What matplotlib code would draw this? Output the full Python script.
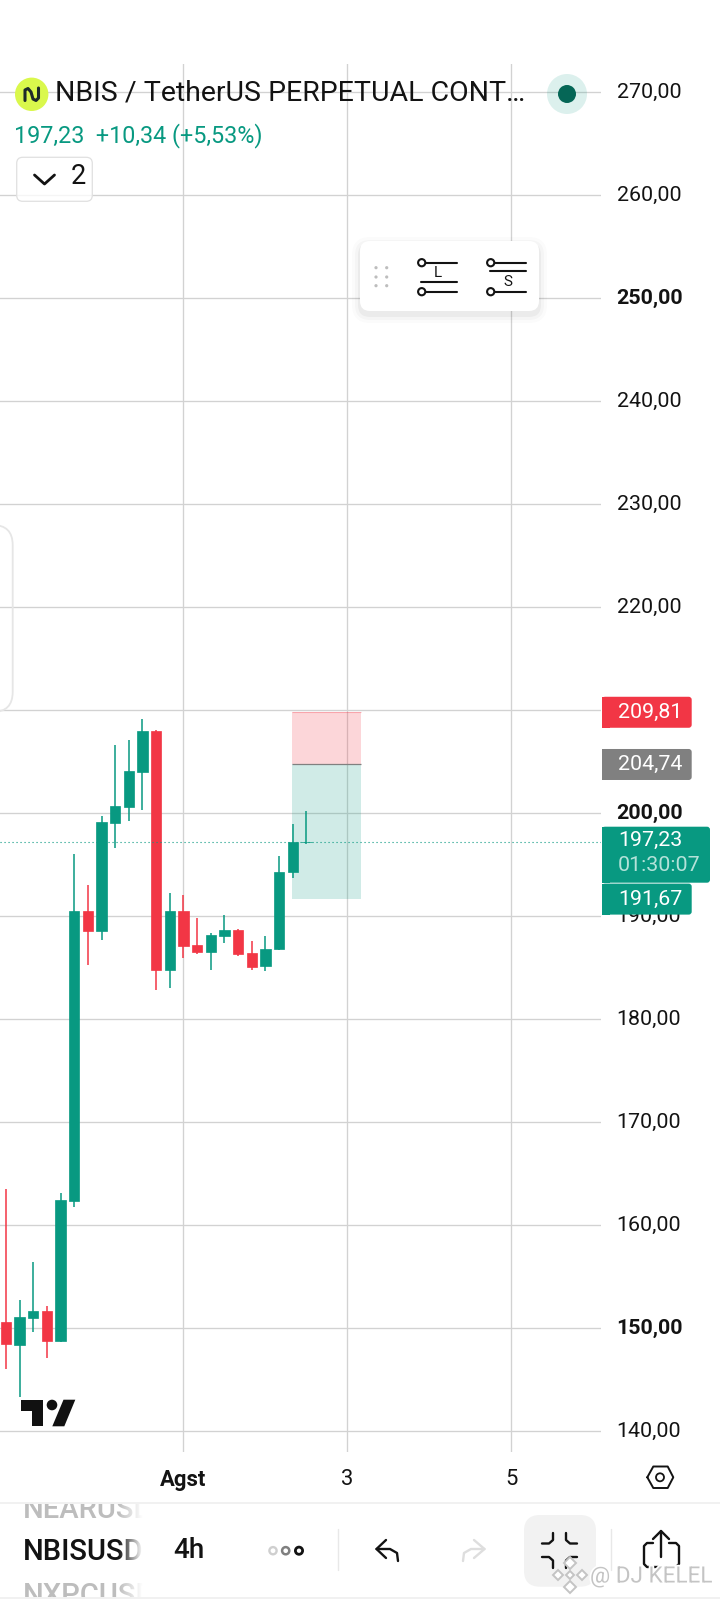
import matplotlib
matplotlib.use("Agg")
import matplotlib.pyplot as plt
import matplotlib.patheffects as pe
import numpy as np
from matplotlib.patches import Circle, FancyBboxPatch, Polygon, Rectangle

plt.rcParams['font.family'] = ['Roboto', 'DejaVu Sans']

GREEN = "#089981"
RED = "#F23645"
GRID = "#D2D2D2"
INK = "#131313"

# --- DATA ---
opens = [150.61, 148.38, 151.00, 151.68, 148.77, 162.36, 190.52, 188.60, 199.08, 200.63, 204.04, 208.02,
         184.78, 190.52, 187.21, 186.53, 188.09, 188.67, 186.43, 185.17, 186.82, 194.31, 197.20]
closes = [148.48, 151.10, 151.68, 148.77, 162.46, 190.52, 188.60, 199.17, 200.73, 204.13, 208.02, 184.78,
          190.52, 187.11, 186.53, 188.18, 188.67, 186.34, 185.07, 186.82, 194.31, 197.23, 197.23]
highs = [163.53, 152.75, 156.44, 152.17, 163.14, 196.06, 193.05, 199.76, 206.66, 207.15, 209.19, 208.12,
         192.27, 192.07, 189.84, 188.38, 190.13, 188.77, 187.60, 188.09, 195.87, 198.98, 200.24]
lows = [146.05, 141.75, 149.64, 147.12, 148.67, 161.78, 185.27, 187.70, 196.65, 199.27, 200.34, 182.80,
        183.03, 185.95, 186.34, 184.78, 187.41, 186.14, 184.78, 184.68, 186.73, 193.73, 197.03]

price_ticks = [140, 150, 160, 170, 180, 190, 200, 210, 220, 230, 240, 250, 260, 270]
bold_prices = [150, 200, 250]
date_ticks = [13, 25, 37]
date_labels = ["Agst", "3", "5"]

last_price = 197.23
target_price = 209.81
entry_price = 204.74
stop_price = 191.67
position_start = 20.94
position_end = 25.97

fig = plt.figure(figsize=(7.2, 16), dpi=100, facecolor="white")

# --- CHART ---
ax = fig.add_axes([0, (1600 - 1452) / 1600, 600.5 / 720, (1452 - 64) / 1600])
ax.set_xlim(-0.432, 43.53)
ax.set_ylim(137.99, 272.75)
for s in ax.spines.values():
    s.set_visible(False)

ax.set_axisbelow(True)
ax.grid(True, color=GRID, linewidth=0.95)

ax.yaxis.tick_right()
ax.set_yticks(price_ticks)
ax.set_yticklabels([f"{p},00" for p in price_ticks])
ax.tick_params(axis='y', length=0, pad=11.6, labelsize=15.4, labelcolor=INK)
plt.setp(ax.get_yticklabels(), va="center")
ax.set_xticks(date_ticks)
ax.set_xticklabels(date_labels)
ax.tick_params(axis='x', length=0, pad=12, labelsize=15.8, labelcolor=INK)
ax.get_xticklabels()[0].set_fontweight("bold")
for lab, p in zip(ax.get_yticklabels(), price_ticks):
    if p in bold_prices:
        lab.set_fontweight("bold")

# long position tool
width = position_end - position_start
ax.add_patch(Rectangle((position_start, entry_price), width, target_price - entry_price,
                       facecolor=RED, alpha=0.2, edgecolor="none", zorder=2))
ax.add_patch(Rectangle((position_start, stop_price), width, entry_price - stop_price,
                       facecolor=GREEN, alpha=0.19, edgecolor="none", zorder=2))
ax.hlines(entry_price, position_start, position_end, color="#808080", linewidth=0.9, zorder=2.5)
ax.hlines(target_price, position_start, position_end, color=RED, alpha=0.3, linewidth=0.8, zorder=2.5)

# candles
idx = np.arange(len(opens))
colors = [GREEN if c >= o else RED for o, c in zip(opens, closes)]
ax.vlines(idx, lows, highs, colors=colors, linewidth=1.1, zorder=3)
ax.bar(idx, np.array(closes) - np.array(opens), bottom=opens, width=0.76,
       color=colors, edgecolor=colors, linewidth=0.5, zorder=4)

ax.axhline(last_price, color=GREEN, linewidth=0.8, linestyle=(0, (1, 2.6)), zorder=5)

# --- UI LAYER (pixel coordinates) ---
ui = fig.add_axes([0, 0, 1, 1], zorder=5)
ui.patch.set_alpha(0)
ui.axis("off")


def box(x0, y0, x1, y1, r, **kw):
    p = FancyBboxPatch((x0, y0), x1 - x0, y1 - y0, boxstyle=f"round,pad=0,rounding_size={r}", **kw)
    ui.add_patch(p)
    return p


def line(pts, color=INK, lw=1.5, **kw):
    xs, ys = zip(*pts)
    ui.plot(xs, ys, color=color, linewidth=lw, solid_capstyle="round", solid_joinstyle="round", **kw)


def ring(x, y, r, color=INK, lw=1.5):
    ui.add_patch(Circle((x, y), r, facecolor="white", edgecolor=color, linewidth=lw, zorder=4))


def price_y(p):
    return 1600 - ax.transData.transform((0, p))[1]


def tag(price, text, color, x1=691.7, half=15.5):
    y = price_y(price)
    box(602, y - half, x1, y + half, 3, facecolor=color, edgecolor="none")
    ui.add_patch(Rectangle((602, y - half), 8, 2 * half, facecolor=color, edgecolor="none"))
    ui.text(618, y, text, color="white", fontsize=15.4, ha="left", va="center")


# header
ui.add_patch(Circle((31.7, 94.3), 16.7, facecolor="#DAF84C", edgecolor="none"))
line([(25, 100.5), (25, 90), (28, 88.5), (31, 92), (33, 99), (36, 100.5), (38.5, 98), (38.5, 88)], color="#1D2B2A", lw=2.2)
ui.text(55, 93.5, "NBIS / TetherUS PERPETUAL CONT…", fontsize=20.5, color=INK, ha="left", va="center")
ui.text(14.5, 136, "197,23  +10,34 (+5,53%)", fontsize=16.8, color=GREEN, ha="left", va="center")
box(16.7, 157.3, 92.3, 201.3, 6, facecolor=(1, 1, 1, 0.8), edgecolor="#E0E0E0", linewidth=0.9)
line([(34.5, 175), (44.5, 184), (54.5, 175)], lw=2)
ui.text(78, 177, "2", fontsize=19.5, color=INK, ha="center", va="center")

ui.add_patch(Circle((567, 94), 20, facecolor=GREEN, alpha=0.14, edgecolor="none"))
ui.add_patch(Circle((567, 94), 9, facecolor="#056656", edgecolor="none"))

# floating toolbar
for grow, a in [(8, 0.015), (5, 0.025), (2, 0.04)]:
    box(360 - grow, 240 - grow + 5, 539 + grow, 311 + grow + 4, 10 + grow, facecolor="black", alpha=a, edgecolor="none")
box(360, 241, 539, 311, 10, facecolor="white", edgecolor="none")
for dx in (376, 386.7):
    for dy in (267.7, 277, 285.7):
        ui.add_patch(Circle((dx, dy), 1.6, facecolor="#BDBDBD", edgecolor="none"))
line([(424, 262.7), (457, 262.7)])
line([(424, 291.7), (457, 291.7)])
line([(421, 282), (457, 282)])
ring(421.7, 262.7, 3.6)
ring(421.7, 291.7, 3.6)
ui.text(438, 272.8, "L", fontsize=11, color=INK, ha="center", va="center")
line([(493, 262.7), (525.7, 262.7)])
line([(493, 291.7), (525.7, 291.7)])
line([(490, 271.3), (525.7, 271.3)])
ring(490.7, 262.7, 3.6)
ring(490.7, 291.7, 3.6)
ui.text(508, 281.7, "S", fontsize=11, color=INK, ha="center", va="center")

# collapsed panel at left edge
box(-30, 525, 12.7, 712, 20, facecolor="none", edgecolor="#E6E6E6", linewidth=1.3)

# price tags
tag(target_price, "209,81", RED)
tag(entry_price, "204,74", "#808080")
box(602, 826.7, 710, 882.7, 3, facecolor=GREEN, edgecolor="none")
ui.add_patch(Rectangle((602, 826.7), 8, 56, facecolor=GREEN, edgecolor="none"))
ui.text(618, 840, "197,23", color="white", fontsize=15.4, ha="left", va="center")
ui.text(618, 865.5, "01:30:07", color="#B4E2D9", fontsize=15.4, ha="left", va="center")
tag(stop_price, "191,67", GREEN)

# tradingview logo, with the white margin it keeps over the candles
ui.add_patch(Rectangle((17, 1397), 62, 16, facecolor="white", edgecolor="none"))
ui.add_patch(Polygon([(21.3, 1399.7), (43.3, 1399.7), (43.3, 1426.3), (32, 1426.3), (32, 1411), (21.3, 1411)],
                     facecolor="#111111", edgecolor="none"))
ui.add_patch(Circle((52, 1405), 5.3, facecolor="#111111", edgecolor="none"))
ui.add_patch(Polygon([(63.5, 1399.7), (75.3, 1399.7), (64.3, 1426.3), (52.3, 1426.3)], facecolor="#111111", edgecolor="none"))

# settings hexagon next to the time axis
line([(647.3, 1477.3), (653.3, 1466.5), (667.7, 1466.5), (673.3, 1477.3), (667.7, 1488), (653.3, 1488), (647.3, 1477.3)], lw=1.4)
ring(660, 1477.3, 4, lw=1.3)

# bottom bar
ui.add_patch(Rectangle((0, 1502), 720, 2, facecolor="#F1F1F1", edgecolor="none"))
ui.add_patch(Rectangle((0, 1597), 720, 2, facecolor="#F1F1F1", edgecolor="none"))
clip = Rectangle((0, 1504), 143, 93, transform=ui.transData)
for y, name, col in [(1510, "NEARUSD", "#BDBDBD"), (1552, "NBISUSD", INK), (1596, "NXPCUSD", "#BDBDBD")]:
    t = ui.text(23, y, name, fontsize=21, color=col, ha="left", va="center", fontweight="medium")
    t.set_clip_path(clip)
    t.set_clip_on(True)
fade = np.ones((1, 30, 4))
fade[0, :, 3] = np.linspace(0, 1, 30)
ui.imshow(fade, extent=(118, 143, 1597, 1504), aspect="auto", zorder=3)

ui.text(188.5, 1551, "4h", fontsize=20, color=INK, ha="center", va="center", fontweight="medium")
ring(273, 1550.7, 3.6, color="#CFCFCF", lw=1.7)
ring(285.7, 1550.7, 3.6, color="#808080", lw=1.8)
ring(299, 1550.7, 3.6, color=INK, lw=2)
line([(337.5, 1529), (337.5, 1570)], color="#E8E8E8", lw=1)
line([(611, 1529), (611, 1570)], color="#E8E8E8", lw=1)

# undo / redo
line([(386, 1540), (376.5, 1549), (386, 1558)], lw=1.7)
line([(376.5, 1549), (390, 1549), (397, 1553), (398, 1561)], lw=1.7)
line([(474, 1540), (484.5, 1549), (474, 1558)], color="#DEDEDE", lw=1.7)
line([(484.5, 1549), (471, 1549), (464, 1553), (463, 1561)], color="#DEDEDE", lw=1.7)

# exit-fullscreen button
box(524, 1515, 596, 1586.7, 16, facecolor="#F2F2F2", edgecolor="none")
line([(542, 1543.5), (549, 1543.5), (553, 1540), (553, 1533)], lw=1.7)
line([(566, 1533), (566, 1540), (570, 1543.5), (577, 1543.5)], lw=1.7)
line([(542, 1557), (549, 1557), (553, 1560.5), (553, 1568)], lw=1.7)
line([(577, 1557), (570, 1557), (566, 1560.5), (566, 1568)], lw=1.7)

# share
line([(661, 1531), (661, 1557)], lw=1.7)
line([(653, 1539), (661, 1531), (669, 1539)], lw=1.7)
line([(653, 1543), (647, 1543), (644, 1546), (644, 1564), (647, 1567), (676, 1567), (679, 1564), (679, 1546), (676, 1543), (669, 1543)], lw=1.7)

# watermark
WM = "#C4C4C4"
halo = [pe.withStroke(linewidth=2.5, foreground="white")]
for cx, cy, s in [(570, 1563, 6), (570, 1587, 6), (558, 1575, 5), (582, 1575, 5), (570, 1575, 4)]:
    p = Polygon([(cx - s, cy), (cx, cy - s), (cx + s, cy), (cx, cy + s)], facecolor="white", edgecolor=WM, linewidth=1.4, zorder=6)
    ui.add_patch(p)
ui.text(590, 1577, "@ DJ KELEL", fontsize=16.2, color=WM, ha="left", va="center", path_effects=halo, zorder=6)

ui.set_xlim(0, 720)
ui.set_ylim(1600, 0)

fig.savefig("out.png", dpi=100)
